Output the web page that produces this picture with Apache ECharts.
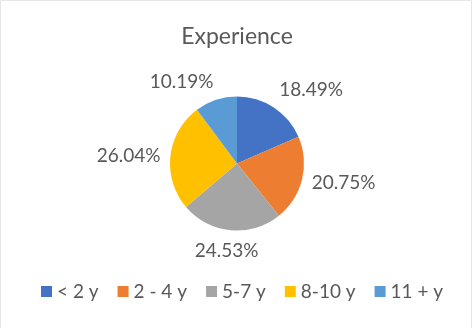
<!DOCTYPE html>
<html>
<head>
<meta charset="utf-8">
<script src="https://cdn.jsdelivr.net/npm/echarts@6/dist/echarts.min.js"></script>
<style>
  html, body { margin: 0; padding: 0; background: #fff; }
  #chart { width: 474px; height: 328px; }
</style>
</head>
<body>
<div id="chart"></div>
<script>
// Experience bands and their share of respondents (%)
const categories = ['< 2 y', '2 - 4 y', '5-7 y', '8-10 y', '11 + y'];
const shares = [18.49, 20.75, 24.53, 26.04, 10.19];
const colors = ['#4472C4', '#ED7D31', '#A5A5A5', '#FFC000', '#5B9BD5'];

const TEXT = '#595959';
const FONT = 'Lato';
const CX = 237, CY = 163.5, R = 67;

// Mid angle of every slice, clockwise from 12 o'clock
const total = shares.reduce((a, b) => a + b, 0);
const midAngles = [];
let acc = 0;
shares.forEach(v => { midAngles.push((acc + v / 2) / total * 2 * Math.PI); acc += v; });

// Fraction of the label box pushed past the anchor: none near the axis, full once the slice leans away
function push(u, threshold) {
  const t = Math.max(0, Math.min(1, 4 * (Math.abs(u) - threshold)));
  return Math.sign(u) * t;
}

// Put each value label just outside the rim, its box pushed off along the slice direction
function placeLabel(p) {
  const a = midAngles[p.dataIndex];
  const ux = Math.sin(a), uy = -Math.cos(a);
  const d = R + 10;
  const hw = p.labelRect.width / 2, hh = 10;
  return {
    x: CX + d * ux + hw * push(ux, 0.07),
    y: CY + 1 + d * uy + hh * push(uy, 0.25),
    align: 'center',
    verticalAlign: 'middle'
  };
}

const chart = echarts.init(document.getElementById('chart'), null, { renderer: 'canvas' });
chart.setOption({
  backgroundColor: '#fff',
  animation: false,
  color: colors,
  textStyle: { fontFamily: FONT, color: TEXT },
  title: {
    text: 'Experience',
    left: 'center',
    top: 20,
    textStyle: { fontFamily: FONT, fontSize: 23, fontWeight: 'normal', color: TEXT }
  },
  legend: {
    bottom: 22,
    left: 36,
    icon: 'rect',
    itemWidth: 11,
    itemHeight: 11,
    itemGap: 19,
    data: categories,
    textStyle: { fontFamily: FONT, fontSize: 19, color: TEXT }
  },
  graphic: [{
    type: 'rect',
    shape: { x: 0.5, y: 0.5, width: 471, height: 340 },
    style: { fill: 'none', stroke: '#e6e6e6', lineWidth: 1 },
    silent: true
  }],
  series: [{
    type: 'pie',
    center: [CX, CY],
    radius: R,
    startAngle: 90,
    clockwise: true,
    avoidLabelOverlap: false,
    itemStyle: { borderWidth: 0 },
    label: {
      show: true,
      position: 'outside',
      fontFamily: FONT,
      fontSize: 19,
      color: TEXT,
      formatter: p => p.value.toFixed(2) + '%'
    },
    labelLine: { show: false },
    labelLayout: placeLabel,
    emphasis: { disabled: true },
    data: categories.map((c, i) => ({ name: c, value: shares[i] }))
  }]
});
</script>
</body>
</html>
